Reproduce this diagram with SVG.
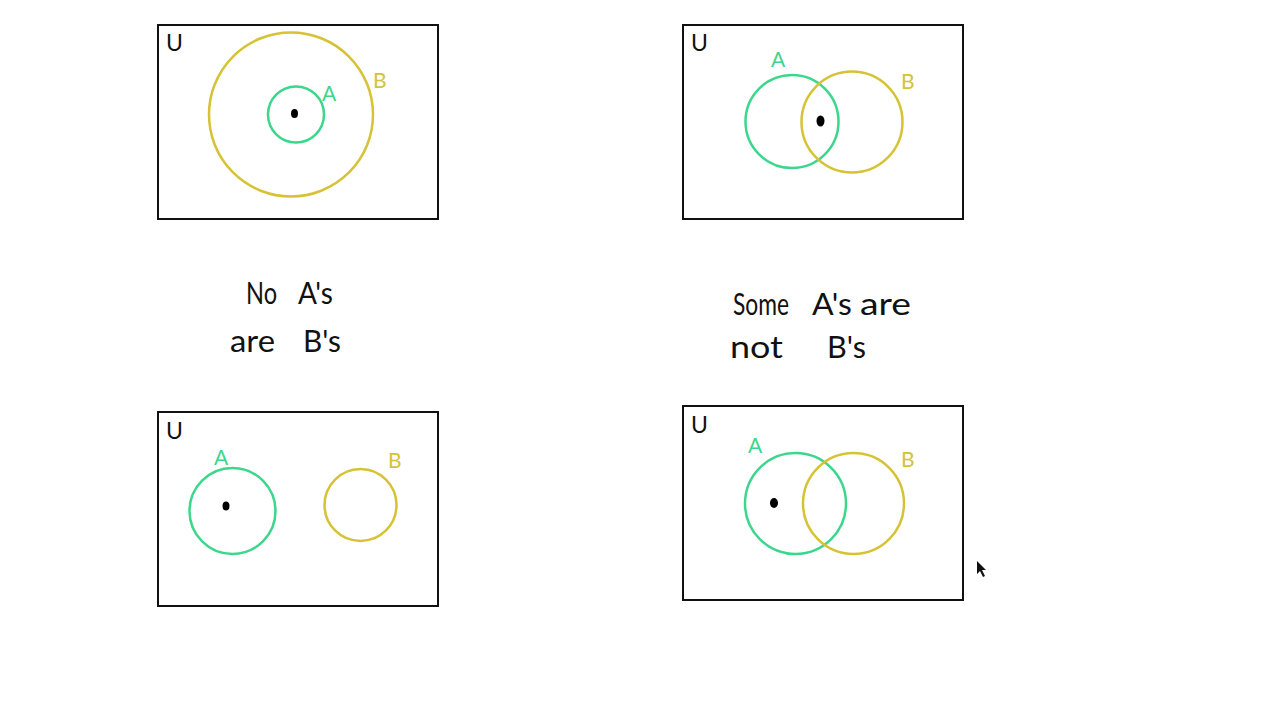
<svg xmlns="http://www.w3.org/2000/svg" width="1280" height="720" viewBox="0 0 1280 720">
<style>
.frame{fill:none;stroke:#111;stroke-width:2}
.ga{fill:none;stroke:#3cd68c;stroke-width:2.5}
.gb{fill:none;stroke:#d6c235;stroke-width:2.5}
.dot{fill:#000}
.u{font-family:Lato,"DejaVu Sans",sans-serif;font-weight:400;font-size:23px;fill:#111}
.la{font-family:Lato,"DejaVu Sans",sans-serif;font-weight:400;font-size:21px;fill:#3cd68c}
.lb{font-family:Lato,"DejaVu Sans",sans-serif;font-weight:400;font-size:21px;fill:#d6c235}
.cap{font-family:Lato,"DejaVu Sans",sans-serif;font-weight:400;font-size:31px;fill:#111}
</style>
<rect width="1280" height="720" fill="#fff"/>
<g id="panel-all">
<rect class="frame" x="158" y="25" width="280" height="194"/>
<text class="u" x="166" y="51">U</text>
<circle class="gb" cx="291" cy="114.5" r="82"/>
<circle class="ga" cx="296" cy="114.5" r="28"/>
<ellipse class="dot" cx="294.5" cy="113.5" rx="3.5" ry="4.5"/>
<text class="la" x="322" y="101">A</text>
<text class="lb" x="373" y="88">B</text>
</g>
<g id="panel-some">
<rect class="frame" x="683" y="25" width="280" height="194"/>
<text class="u" x="691" y="51">U</text>
<circle class="ga" cx="792" cy="121.5" r="46.5"/>
<circle class="gb" cx="852" cy="122" r="50.5"/>
<ellipse class="dot" cx="820.5" cy="121" rx="4" ry="5.5"/>
<text class="la" x="771" y="67">A</text>
<text class="lb" x="901" y="89">B</text>
</g>
<g id="caption-no">
<text class="cap"><tspan x="246" y="304" textLength="31" lengthAdjust="spacingAndGlyphs">No</tspan><tspan x="298" y="304" textLength="35" lengthAdjust="spacingAndGlyphs">A's</tspan></text>
<text class="cap"><tspan x="230" y="352" textLength="45" lengthAdjust="spacingAndGlyphs">are</tspan><tspan x="303" y="352" textLength="38" lengthAdjust="spacingAndGlyphs">B's</tspan></text>
</g>
<g id="caption-some">
<text class="cap"><tspan x="733" y="315" textLength="56" lengthAdjust="spacingAndGlyphs">Some</tspan><tspan x="812" y="315" textLength="40" lengthAdjust="spacingAndGlyphs">A's</tspan><tspan x="860" y="315" textLength="51" lengthAdjust="spacingAndGlyphs">are</tspan></text>
<text class="cap"><tspan x="730" y="358" textLength="53" lengthAdjust="spacingAndGlyphs">not</tspan><tspan x="827" y="358" textLength="39" lengthAdjust="spacingAndGlyphs">B's</tspan></text>
</g>
<g id="panel-no">
<rect class="frame" x="158" y="412" width="280" height="194"/>
<text class="u" x="166" y="439">U</text>
<circle class="ga" cx="232.5" cy="511" r="43"/>
<circle class="gb" cx="360.5" cy="505" r="36"/>
<ellipse class="dot" cx="226" cy="506" rx="3.5" ry="4.5"/>
<text class="la" x="214" y="465">A</text>
<text class="lb" x="388" y="468">B</text>
</g>
<g id="panel-somenot">
<rect class="frame" x="683" y="406" width="280" height="194"/>
<text class="u" x="691" y="433">U</text>
<circle class="ga" cx="795.5" cy="503.5" r="50.5"/>
<circle class="gb" cx="853.5" cy="503.5" r="50.5"/>
<ellipse class="dot" cx="774" cy="503" rx="4" ry="5"/>
<text class="la" x="748" y="453">A</text>
<text class="lb" x="901" y="467">B</text>
</g>
<g id="cursor">
<polygon points="977,561 977,574 980,571 983,577 985,576 982,570 986,570" fill="#111"/>
</g>
</svg>
